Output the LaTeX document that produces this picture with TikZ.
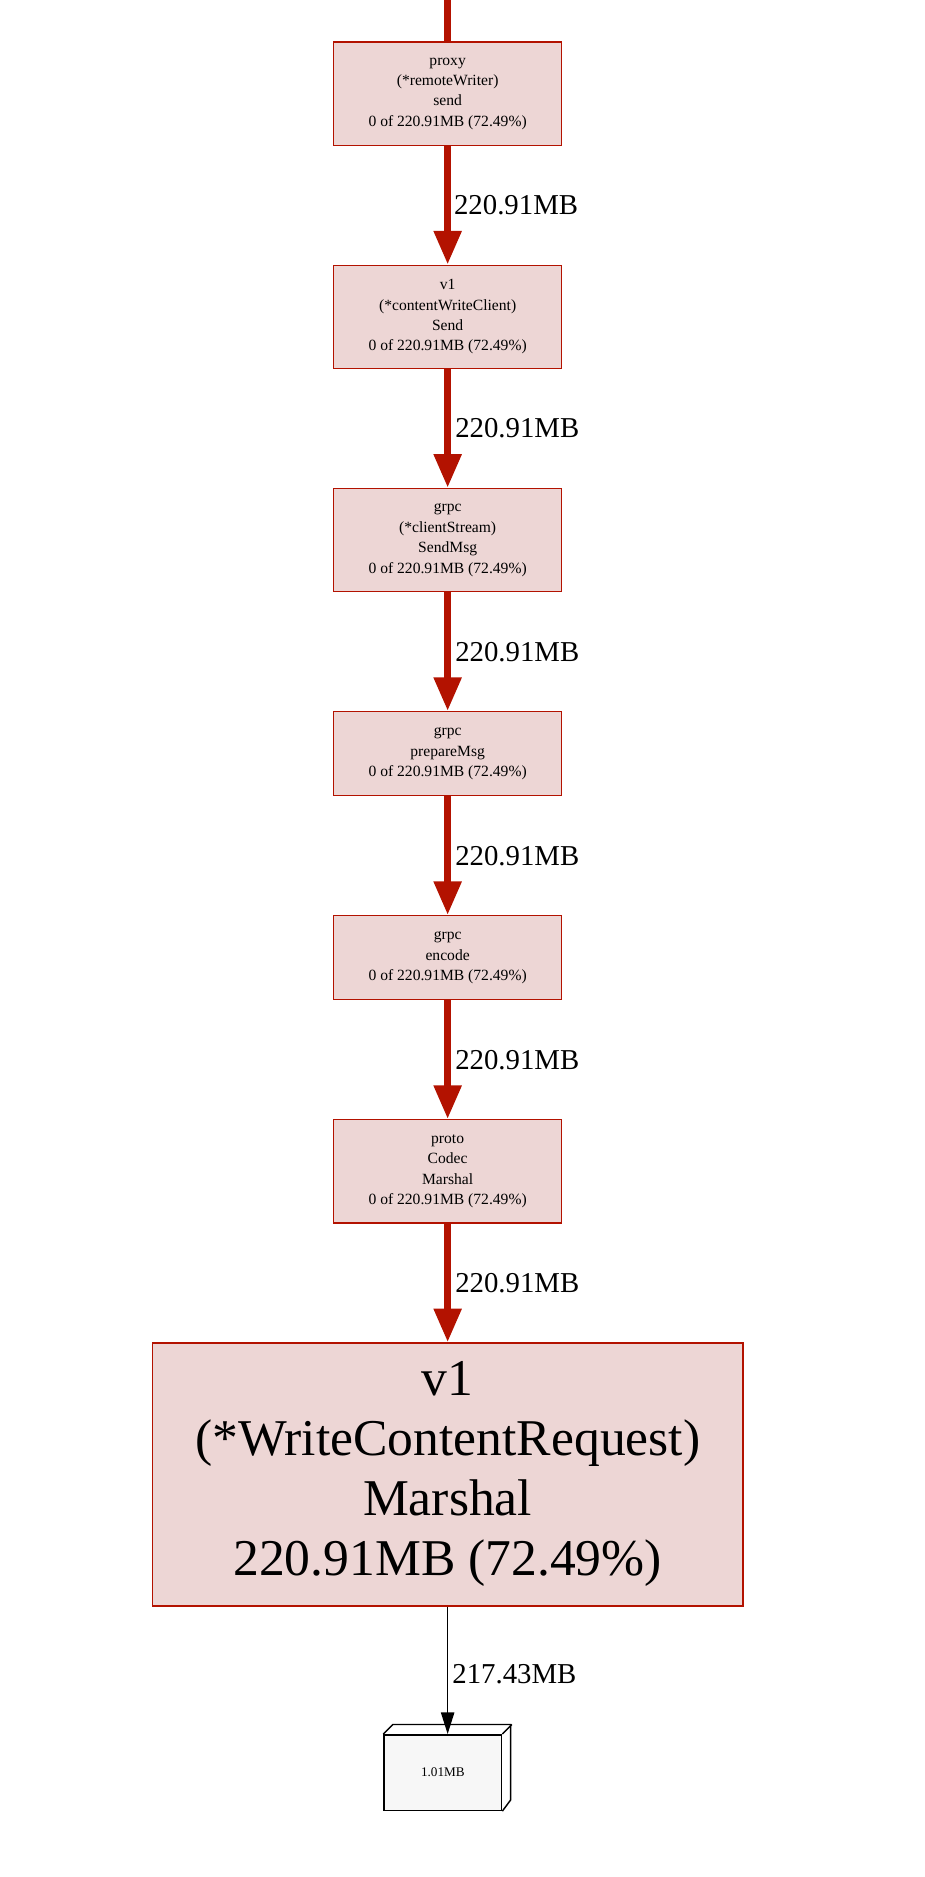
\documentclass[tikz,border=0pt]{standalone}
\usepackage{fontspec}
\setmainfont{Liberation Serif}
\usetikzlibrary{arrows.meta}
\definecolor{ered}{HTML}{B31200}
\definecolor{nfill}{HTML}{EDD6D5}
\begin{document}
\begin{tikzpicture}[x=1pt,y=-1pt,
  fn/.style={draw=ered,fill=nfill,line width=1.2pt,minimum width=190pt,align=center,inner sep=0pt,font=\fontsize{13}{17}\selectfont},
  hot/.style={draw=ered,line width=6pt,-{Triangle[length=28pt,width=22pt]}},
  lab/.style={font=\fontsize{24}{28}\selectfont,anchor=west}]
\useasboundingbox (0,0) rectangle (770,1564);
\node[fn,minimum height=86pt] (a) at (373,78) {proxy\\(*remoteWriter)\\send\\0 of 220.91MB (72.49\%)};
\node[fn,minimum height=86pt] (b) at (373,264) {v1\\(*contentWriteClient)\\Send\\0 of 220.91MB (72.49\%)};
\node[fn,minimum height=86pt] (c) at (373,450) {grpc\\(*clientStream)\\SendMsg\\0 of 220.91MB (72.49\%)};
\node[fn,minimum height=70pt] (d) at (373,628) {grpc\\prepareMsg\\0 of 220.91MB (72.49\%)};
\node[fn,minimum height=70pt] (e) at (373,798) {grpc\\encode\\0 of 220.91MB (72.49\%)};
\node[fn,minimum height=86pt] (f) at (373,976) {proto\\Codec\\Marshal\\0 of 220.91MB (72.49\%)};
\node[fn,minimum width=492pt,minimum height=219pt,font=\fontsize{43}{50}\selectfont] (g) at (373,1228.5) {v1\\(*WriteContentRequest)\\Marshal\\220.91MB (72.49\%)};
\node[draw,fill=black!3,line width=1.2pt,minimum width=98pt,minimum height=63pt,font=\fontsize{11}{13}\selectfont] (h) at (369,1477) {1.01MB};
\draw[line width=1.2pt] (h.north west) -- ++(8,-8) -- ++(98,0) -- ++(0,63) -- (h.south east);
\draw[line width=1.2pt] (h.north east) -- ++(8,-8);
\coordinate (top) at (373,0);
\draw[draw=ered,line width=6pt] (top) -- (a);
\draw[hot] (a) -- (b) node[lab,midway,xshift=-1pt] {220.91MB};
\draw[hot] (b) -- (c) node[lab,midway] {220.91MB};
\draw[hot] (c) -- (d) node[lab,midway] {220.91MB};
\draw[hot] (d) -- (e) node[lab,midway] {220.91MB};
\draw[hot] (e) -- (f) node[lab,midway] {220.91MB};
\draw[hot] (f) -- (g) node[lab,midway] {220.91MB};
\draw[line width=1.3pt,-{Triangle[length=18pt,width=11pt]}] (g.south) -- (g.south|-h.north) node[lab,midway,yshift=-3pt] {217.43MB};
\end{tikzpicture}
\end{document}
